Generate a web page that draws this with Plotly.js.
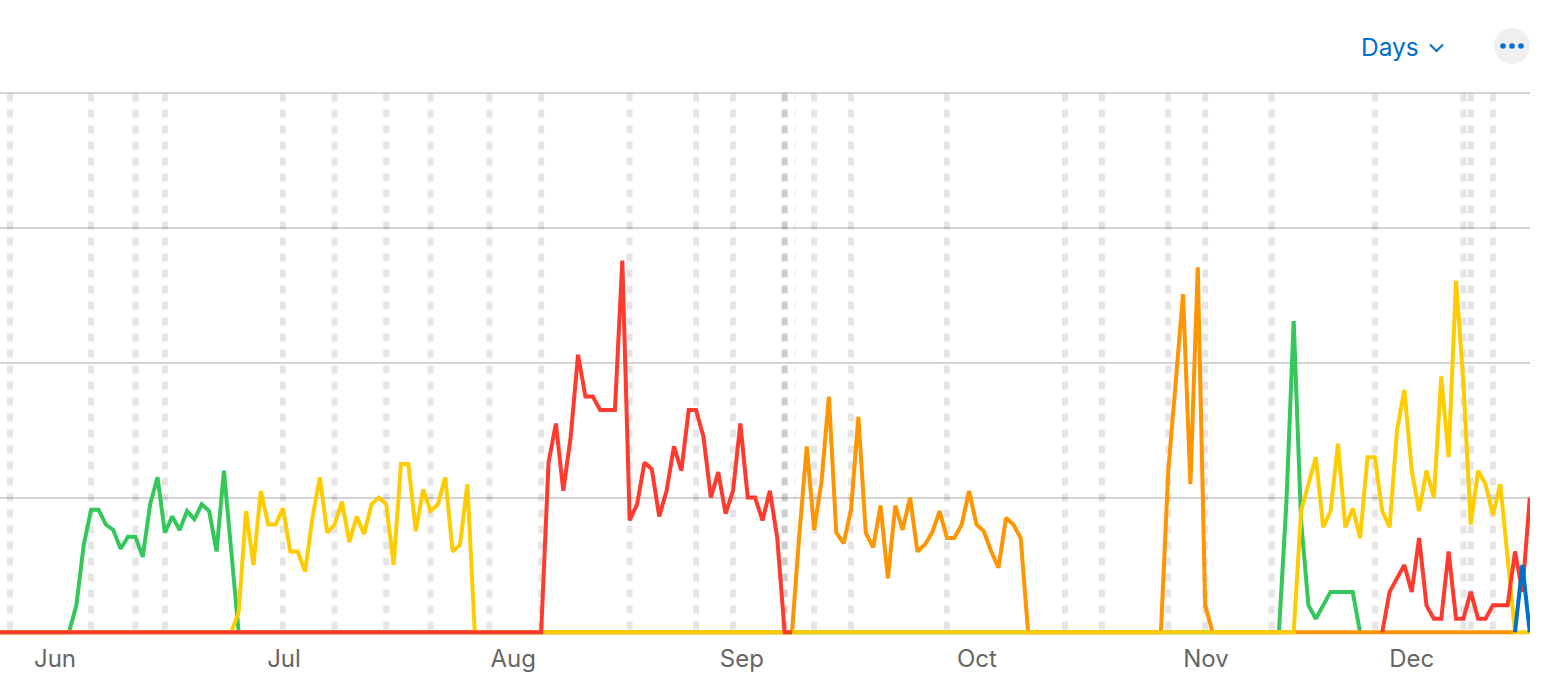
<!DOCTYPE html>
<html>
<head>
<meta charset="utf-8">
<script src="https://cdn.plot.ly/plotly-3.0.1.min.js"></script>
<style>html,body{margin:0;padding:0;background:#fff;overflow:hidden}#chart{width:1563px;height:689px}</style>
</head>
<body>
<div id="chart"></div>
<script>
function days(a, b) { var out = []; for (var d = a; d <= b; d++) out.push(d); return out; }

// Month tick labels (day number, label)
var tickDays = [-1.9, 29.14, 60.2, 91.2, 123.07, 154.1, 182];
var tickLabels = ['Jun', 'Jul', 'Aug', 'Sep', 'Oct', 'Nov', 'Dec'];

// Value gridlines
var gridValues = [0, 10, 20, 30, 40];

// Event markers (dotted verticals); 97 occurs twice in the source
var eventDays = [-8, 3, 9, 13, 29, 36, 43, 49, 57, 64, 76, 85, 90, 97, 97, 101, 106, 119, 135, 140, 149, 154, 163, 177, 189, 190, 193];
var thinEventDays = [98.4];

// Series
var greenDays = [-10].concat(days(0, 23), days(164, 175));
var greenValues = [0,
  0, 2, 6.5, 9.1, 9.1, 8, 7.6, 6.2, 7.1, 7.1, 5.6, 9.5, 11.5, 7.4, 8.6, 7.6, 9, 8.4, 9.5, 9, 6, 12, 6.1, 0,
  0, 9.5, 23.1, 8.3, 2, 1, 2, 3, 3, 3, 3, 0];

var yellowDays = [-10].concat(days(22, 55), days(166, 198));
var yellowValues = [0,
  0, 1.5, 9, 5, 10.5, 8, 8, 9.2, 6, 6, 4.5, 8.5, 11.5, 7.4, 8, 9.7, 6.7, 8.6, 7.3, 9.5, 10, 9.5, 5, 12.5, 12.5, 7.5, 10.6, 9, 9.5, 11.5, 6, 6.5, 11, 0,
  0, 9, 11, 13, 7.8, 9, 14, 7.8, 9.2, 7, 13, 13, 9, 7.8, 15, 18, 12, 9, 12, 10, 19, 13, 26.1, 18.5, 8, 12, 11, 8.7, 11, 5.5, 0, 0, 0];

var redDays = [-10].concat(days(64, 98), [99], days(178, 198));
var redValues = [0,
  0, 12.6, 15.5, 10.5, 14.5, 20.6, 17.5, 17.5, 16.5, 16.5, 16.5, 27.6, 8.3, 9.5, 12.6, 12.1, 8.6, 10.5, 13.8, 12, 16.5, 16.5, 14.5, 10, 11.9, 8.8, 10.5, 15.5, 10, 10, 8.3, 10.5, 7, 0, 0,
  null,
  0, 3, 4, 5, 3, 7, 2, 1, 1, 6, 1, 1, 3, 1, 1, 2, 2, 2, 6, 3, 10];

var orangeDays = [-10].concat(days(98, 130), days(148, 155), [196]);
var orangeValues = [0,
  0, 7.3, 13.8, 7.6, 11.2, 17.5, 7.4, 6.6, 9.1, 16, 7.4, 6.3, 9.4, 4, 9.4, 7.6, 10, 6, 6.5, 7.4, 9, 7, 7, 8, 10.5, 8, 7.5, 6, 4.8, 8.5, 8, 7, 0,
  0, 12, 18.5, 25.1, 11, 27.1, 2, 0,
  0];

var blueDays = days(196, 198);
var blueValues = [0, 5, 0];

var GREEN = '#34c759', YELLOW = '#ffcc00', RED = '#ff3b30', ORANGE = '#ff9500', BLUE = '#0070c9';
var W = 1563, H = 689;
function px(x) { return x / (W - 33); }
function py(y) { return (640 - y) / 550; }

function verticals(list) {
  var xs = [], ys = [];
  list.forEach(function (d) { xs.push(d, d, null); ys.push(40, 0, null); });
  return { x: xs, y: ys };
}
function eventTrace(list, width) {
  var v = verticals(list);
  return { x: v.x, y: v.y, type: 'scatter', mode: 'lines', hoverinfo: 'skip', showlegend: false,
    line: { color: 'rgba(0,0,0,0.1)', width: width, dash: '8px,8px' } };
}
function lineTrace(xs, ys, color) {
  return { x: xs, y: ys, type: 'scatter', mode: 'lines', showlegend: false, connectgaps: false,
    line: { color: color, width: 4, shape: 'linear' } };
}

var traces = [
  eventTrace(eventDays, 6),
  eventTrace(thinEventDays, 1),
  lineTrace(greenDays, greenValues, GREEN),
  lineTrace(orangeDays, orangeValues, ORANGE),
  lineTrace(yellowDays, yellowValues, YELLOW),
  lineTrace(redDays, redValues, RED),
  lineTrace(blueDays, blueValues, BLUE)
];

var FONT = 'Inter, Roboto, sans-serif';
function dot(cx, cy, r, fill) {
  return { type: 'circle', xref: 'paper', yref: 'paper', x0: px(cx - r), x1: px(cx + r), y0: py(cy + r), y1: py(cy - r),
    fillcolor: fill, line: { width: 0 }, layer: 'above' };
}
var layout = {
  width: W, height: H,
  margin: { l: 0, r: 33, t: 90, b: 49, pad: 0 },
  paper_bgcolor: '#fff', plot_bgcolor: '#fff',
  showlegend: false,
  xaxis: {
    range: [-9.35, 198.03], showgrid: false, zeroline: false, showline: false, fixedrange: true,
    tickmode: 'array', tickvals: tickDays, ticktext: tickLabels, ticks: '',
    tickfont: { family: FONT, size: 24, color: '#666666' }, ticklabelstandoff: 2
  },
  yaxis: {
    range: [-0.572, 40.258], showgrid: true, gridcolor: '#d4d4d4', gridwidth: 2, zeroline: false, showline: false,
    fixedrange: true, tickmode: 'array', tickvals: gridValues, showticklabels: false, ticks: ''
  },
  annotations: [{
    xref: 'paper', yref: 'paper', x: px(1359), y: py(47), xanchor: 'left', yanchor: 'middle', showarrow: false,
    text: 'Days', font: { family: FONT, size: 24.5, color: BLUE }
  }],
  shapes: [
    { type: 'path', xref: 'paper', yref: 'paper',
      path: 'M ' + px(1430) + ' ' + py(44.5) + ' L ' + px(1436.5) + ' ' + py(51) + ' L ' + px(1443) + ' ' + py(44.5),
      line: { color: BLUE, width: 2 }, layer: 'above' },
    dot(1512, 46, 18, '#f0f0f0'),
    dot(1503, 46, 2.8, BLUE),
    dot(1512, 46, 2.8, BLUE),
    dot(1521, 46, 2.8, BLUE)
  ]
};
Plotly.newPlot('chart', traces, layout, { displayModeBar: false, staticPlot: true });
</script>
</body>
</html>
